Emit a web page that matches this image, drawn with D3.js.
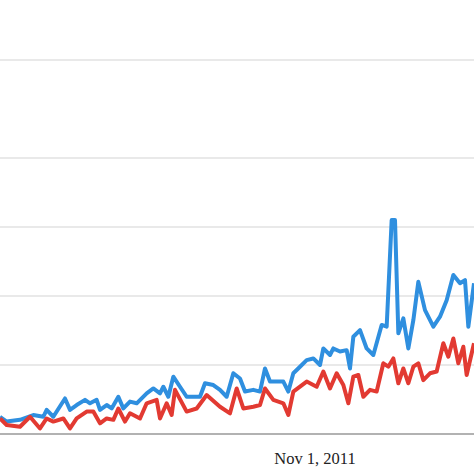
<!DOCTYPE html><html><head><script src="https://cdn.jsdelivr.net/npm/d3@7"></script>
<style>body{margin:0;background:#fff}</style></head><body><svg id="c" width="474" height="474"></svg>
<script>
const blueX=[0,20,60,100,130,140,160,195,210,230,255,270,290,300,320,335,355,370,390,410,440,460,480,490,505,520,540,560,600,615,640,660,680,700,720,735,760,780,795,810,830,850,865,880,900,920,940,960,970,990,1000,1020,1040,1050,1060,1080,1100,1120,1145,1160,1175,1185,1195,1210,1225,1240,1255,1275,1300,1320,1340,1360,1380,1395,1405,1422];
const blueV=[5.0,3.6,4.1,5.5,5.0,7.0,5.0,10.3,7.0,8.4,9.9,8.9,9.9,7.0,8.4,7.4,10.8,7.4,9.4,8.9,11.8,13.2,11.8,13.7,10.8,16.6,13.7,10.8,10.8,14.7,14.2,12.8,10.8,17.6,16.1,12.3,12.8,12.3,19.0,15.2,15.2,15.2,12.3,17.6,19.5,21.4,21.9,20.0,24.8,22.9,24.8,23.9,24.3,19.0,28.2,30.1,24.8,22.9,31.6,31.1,62,62,29.2,33.5,24.8,33.0,44.1,35.9,31.1,34.0,38.8,46.1,43.7,44.6,31.1,43.7];
const redX=[0,20,60,90,120,140,160,190,210,230,260,280,300,320,340,355,375,390,420,440,470,480,500,515,525,560,590,620,660,690,710,730,760,780,795,820,850,865,880,920,950,970,990,1010,1030,1045,1060,1075,1090,1110,1130,1150,1165,1180,1195,1210,1225,1240,1255,1270,1290,1310,1330,1345,1360,1375,1390,1400,1422];
const redV=[4.5,2.6,2.1,5.0,1.6,4.5,3.6,4.5,1.6,4.5,6.5,6.5,3.1,4.5,4.1,7.4,3.6,6.0,4.5,8.9,9.9,4.5,8.9,5.5,12.8,6.5,7.4,11.3,7.9,6.0,13.2,7.4,7.9,8.4,13.2,9.9,8.9,5.5,12.3,15.2,13.7,18.1,13.2,17.6,14.2,8.9,16.6,17.1,10.8,12.8,12.3,20.5,19.5,21.9,14.7,19.0,14.7,19.5,20.5,15.6,17.6,18.1,26.3,22.4,27.7,20.5,25.3,17.1,26.3];
const gridVals=[20,40,60,80,108.4];
const xTickVals=[945];const xTickLabels=["Nov 1, 2011"];
const svg=d3.select("#c");
const x=d3.scaleLinear().domain([0,1422]).range([0,474]);
const y=d3.scaleLinear().domain([0,20]).range([434,365]);
svg.selectAll(".g").data(gridVals).join("line").attr("x1",0).attr("x2",474).attr("y1",d=>y(d)).attr("y2",d=>y(d)).attr("stroke","#e2e2e2").attr("stroke-width",1.5);
svg.append("line").attr("x1",0).attr("x2",474).attr("y1",y(0)).attr("y2",y(0)).attr("stroke","#999").attr("stroke-width",1.5);
const line=d3.line().x(d=>x(d[0])).y(d=>y(d[1])).curve(d3.curveLinear);
svg.append("path").attr("d",line(blueX.map((v,i)=>[v,blueV[i]]))).attr("fill","none").attr("stroke","#2f8fdf").attr("stroke-width",4).attr("stroke-linejoin","round");
svg.append("path").attr("d",line(redX.map((v,i)=>[v,redV[i]]))).attr("fill","none").attr("stroke","#e23a32").attr("stroke-width",4).attr("stroke-linejoin","round");
svg.selectAll(".t").data(xTickVals).join("text").attr("x",d=>x(d)).attr("y",464).attr("text-anchor","middle").attr("font-family","Liberation Serif").attr("font-size",16.5).attr("fill","#222").text((d,i)=>xTickLabels[i]);
</script></body></html>
